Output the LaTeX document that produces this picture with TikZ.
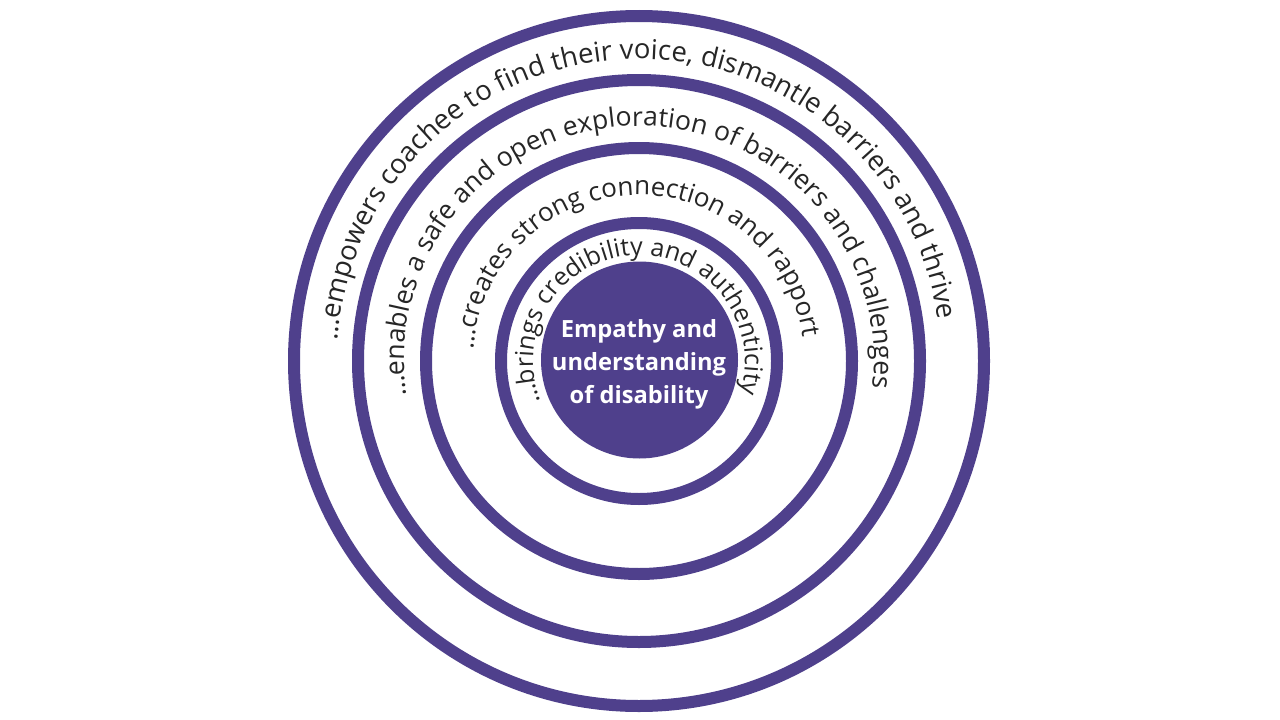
\documentclass[tikz,border=0pt]{standalone}
\usepackage{fontspec}
\setmainfont{Open Sans}
\usetikzlibrary{decorations.text}
\definecolor{ringpurple}{RGB}{79,64,140}
\definecolor{txtgray}{RGB}{38,38,38}
\begin{document}
\begin{tikzpicture}[x=1pt,y=1pt,
  ringline/.style={circle,draw=ringpurple,line width=12pt,inner sep=0pt},
  arctext/.style={decorate,decoration={text along path,text align=center,text color=txtgray,text={#1}}}]
\fill[white] (0,0) rectangle (1280,-720);
\useasboundingbox (0,0) rectangle (1280,-720);
\coordinate (c) at (639,-361);
\node[ringline,minimum size=690pt] (r4) at (c) {};
\node[ringline,minimum size=562pt] (r3) at (c) {};
\node[ringline,minimum size=426pt] (r2) at (c) {};
\node[ringline,minimum size=276pt] (r1) at (c) {};
\node[circle,fill=ringpurple,minimum size=197pt,inner sep=0pt] (core) at (639.5,-360) {};
\node[align=center,text=white,font=\fontsize{23.7}{33}\selectfont\bfseries,inner sep=0pt] (coretext) at (639,-364) {Empathy and\\understanding\\of disability};
\path[arctext={|\fontsize{27.5}{32}\selectfont|…empowers coachee to find their voice{,} dismantle barriers and thrive}]
  ([shift={(232:302)}]c) arc[start angle=232,end angle=-48,radius=302];
\path[arctext={|\fontsize{26.6}{32}\selectfont|…enables a safe and open exploration of barriers and challenges}]
  ([shift={(231:235)}]c) arc[start angle=231,end angle=-49,radius=235];
\path[arctext={|\fontsize{26}{30}\selectfont|…creates strong connection and rapport}]
  ([shift={(232:166)}]c) arc[start angle=232,end angle=-48,radius=166];
\path[arctext={|\fontsize{25}{30}\selectfont|…brings credibility and authenticity}]
  ([shift={(232.5:106)}]c) arc[start angle=232.5,end angle=-47.5,radius=106];
\end{tikzpicture}
\end{document}
